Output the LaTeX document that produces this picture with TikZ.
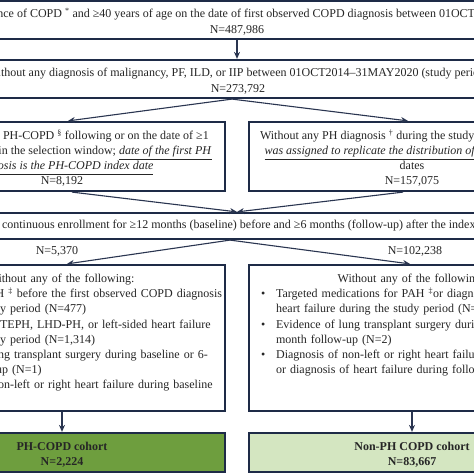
\documentclass[tikz,border=0pt]{standalone}
\usepackage{fontspec}
\setmainfont{Liberation Serif}
\usetikzlibrary{arrows.meta}

\definecolor{boxline}{HTML}{1E2B47}
\definecolor{arrowline}{HTML}{2A3550}
\definecolor{cohortdark}{HTML}{6E9E3E}
\definecolor{cohortlight}{HTML}{D4E6C1}

\tikzset{
    flowbox/.style={rectangle, draw=boxline, line width=2.2pt, fill=white, inner sep=0pt,
        align=center, text=black!85, font=\fontsize{12}{15}\selectfont},
    widebox/.style={flowbox, minimum width=694pt, font=\fontsize{12}{16}\selectfont},
    listtext/.style={inner sep=0pt, text width=420pt, align=left, text=black!85,
        font=\fontsize{12}{15.2}\selectfont},
    flowarrow/.style={draw=arrowline, line width=1.1pt, -{Stealth[length=7pt,width=6pt]}},
    countlabel/.style={inner sep=0pt, text=black!85, font=\fontsize{12}{15}\selectfont}
}
\newcommand{\bul}{\makebox[15pt][l]{\textbullet}}
\newcommand{\cont}{\hspace*{15pt}}
\newcommand{\topstrut}{\rule{0pt}{13.5pt}}

\begin{document}
\begin{tikzpicture}[x=1pt, y=-1pt]
    \useasboundingbox (0,0) rectangle (474,474);
    \clip (0,0) rectangle (474,474);
    \fill[white] (0,0) rectangle (474,474);

    \node[widebox, minimum height=38pt] (copd) at (237,20)
        {\topstrut Patients with evidence of COPD \textsuperscript{*} and ≥40 years of age on the date of first observed COPD diagnosis between 01OCT2014–31MAY2020\\N=487,986};
    \node[widebox, minimum height=38pt] (excl) at (238,79)
        {\topstrut Without any diagnosis of malignancy, PF, ILD, or IIP between 01OCT2014–31MAY2020 (study period)\\N=273,792};
    \node[flowbox, minimum width=326pt, minimum height=69pt] (phbox) at (62,156.5)
        {\topstrut With diagnosis of PH-COPD \textsuperscript{§} following or on the date of ≥1\\
         COPD claim within the selection window; \underline{\textit{date of the first PH}}\\
         \underline{\textit{diagnosis is the PH-COPD index date}}\\
         N=8,192};
    \node[flowbox, minimum width=326pt, minimum height=69pt] (nophbox) at (412,156.5)
        {\topstrut Without any PH diagnosis \textsuperscript{†} during the study period; index date\\
         \underline{\textit{was assigned to replicate the distribution of PH-COPD index}}\\
         dates\\
         N=157,075};
    \node[widebox, minimum height=26pt] (enroll) at (237,226)
        {With continuous enrollment for ≥12 months (baseline) before and ≥6 months (follow-up) after the index date};

    \node[countlabel] (n5370) at (57,251) {N=5,370};
    \node[countlabel] (n102238) at (415,251) {N=102,238};

    % exclusion lists
    \node[flowbox, minimum width=326pt, minimum height=146pt] (phcrit) at (62,338) {};
    \node[flowbox, minimum width=326pt, minimum height=146pt] (nophcrit) at (412,338) {};
    \node[listtext, anchor=north west, xshift=13pt, yshift=-10pt] (phcritlist) at (phcrit.north west)
        {\makebox[300pt]{Without any of the following:}\\
         \bul Diagnosed PAH \textsuperscript{‡} before the first observed COPD diagnosis\\
         \cont during the study period (N=477)\\
         \bul Diagnosis of CTEPH, LHD-PH, or left-sided heart failure\\
         \cont during the study period (N=1,314)\\
         \bul Evidence of lung transplant surgery during baseline or 6-\\
         \cont month follow-up (N=1)\\
         \bul Diagnosis of non-left or right heart failure during baseline};
    \node[listtext, anchor=north west, xshift=13pt, yshift=-10pt] (nophcritlist) at (nophcrit.north west)
        {\makebox[300pt]{Without any of the following:}\\
         \bul Targeted medications for PAH \textsuperscript{‡}or diagnosis of left-sided\\
         \cont heart failure during the study period (N=7\\
         \bul Evidence of lung transplant surgery during baseline or 6-\\
         \cont month follow-up (N=2)\\
         \bul Diagnosis of non-left or right heart failure during baseline\\
         \cont or diagnosis of heart failure during follow-up};

    \node[flowbox, fill=cohortdark, font=\fontsize{12}{15}\selectfont\bfseries,
        minimum width=326pt, minimum height=39pt] (phcohort) at (62,452.5)
        {\topstrut PH-COPD cohort\\N=2,224};
    \node[flowbox, fill=cohortlight, font=\fontsize{12}{15}\selectfont\bfseries,
        minimum width=326pt, minimum height=39pt] (nophcohort) at (412,452.5)
        {\topstrut Non-PH COPD cohort\\N=83,667};

    \draw[flowarrow] (copd) -- (copd |- excl.north);
    \draw[flowarrow] ([xshift=-6pt]excl.south) -- ([xshift=6pt]phbox.north);
    \draw[flowarrow] ([xshift=-6pt]excl.south) -- ([xshift=-4pt]nophbox.north);
    \draw[flowarrow] ([xshift=10pt]phbox.south) -- (enroll.north);
    \draw[flowarrow] ([xshift=-9pt]nophbox.south) -- (enroll.north);
    \draw[flowarrow] ([xshift=-7pt]enroll.south) -- ([xshift=5pt]phcrit.north);
    \draw[flowarrow] ([xshift=-7pt]enroll.south) -- ([xshift=-2pt]nophcrit.north);
    \draw[flowarrow] (phcrit) -- (phcohort);
    \draw[flowarrow] (nophcrit) -- (nophcohort);
\end{tikzpicture}
\end{document}
